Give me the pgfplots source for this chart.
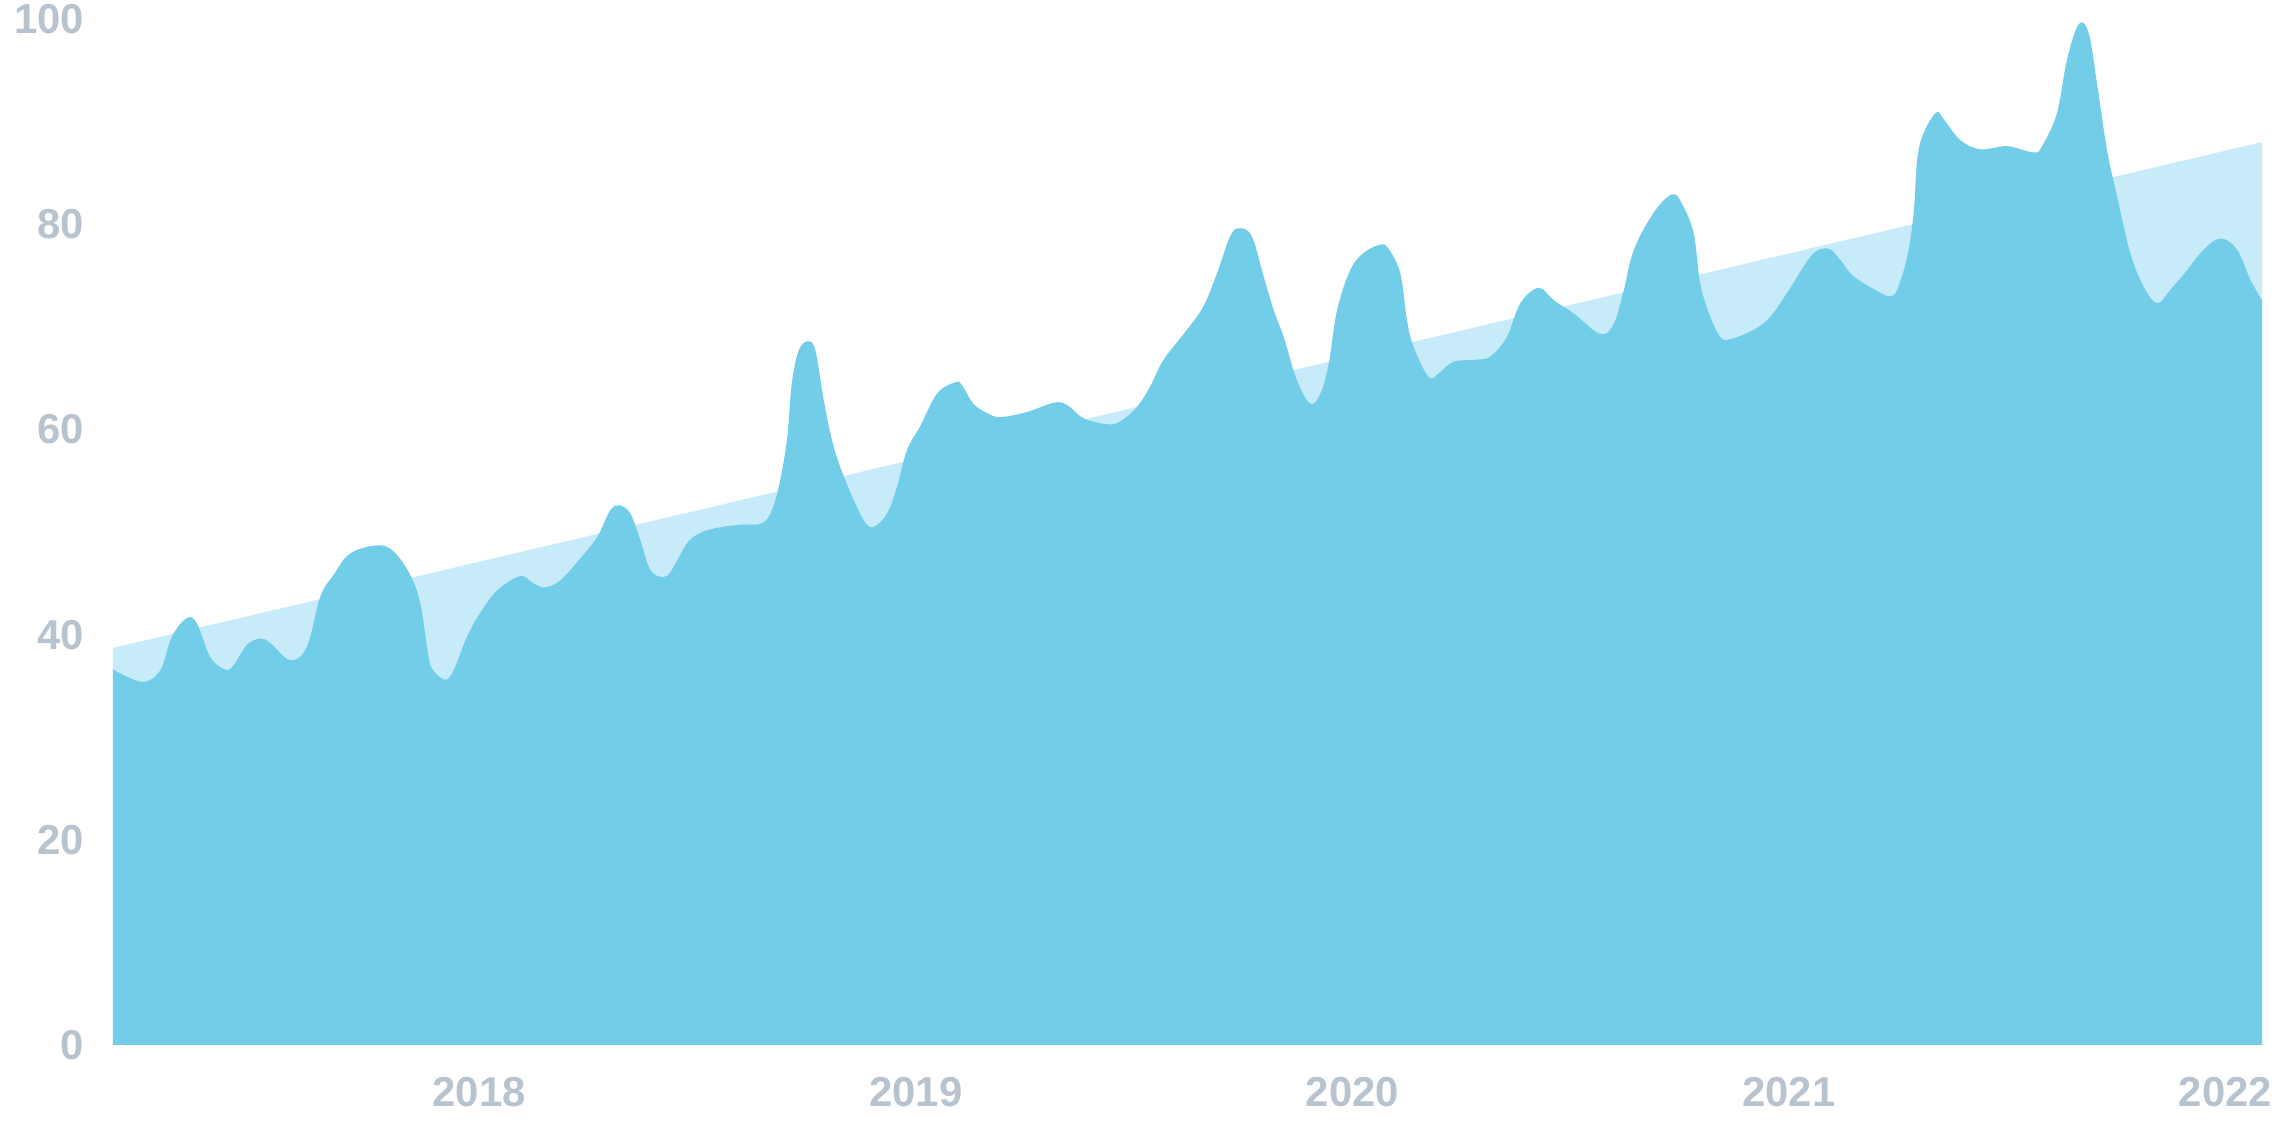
\documentclass[border=0pt]{standalone}
\usepackage{pgfplots}
\pgfplotsset{compat=1.18}
\usepackage{fontspec}
\setmainfont{Liberation Sans}
\definecolor{darkfill}{RGB}{113,205,232}
\definecolor{lightfill}{RGB}{199,235,248}
\definecolor{ticktext}{RGB}{183,195,207}
\begin{document}
\begin{tikzpicture}
\path[draw=none] (-28.25bp,-23.75bp) rectangle (542.25bp,261.25bp);
\begin{axis}[
  at={(0bp,0bp)}, anchor=south west,
  scale only axis,
  width=537.25bp, height=256.5bp,
  xmin=2017.161, xmax=2022.084,
  ymin=0, ymax=100,
  axis line style={draw=none},
  tick style={draw=none},
  major tick length=0pt,
  xtick={2018,2019,2020,2021,2022},
  xticklabels={2018,2019,2020,2021,2022},
  ytick={0,20,40,60,80,100},
  yticklabels={0,20,40,60,80,100},
  tick label style={font=\fontsize{10.5}{12}\selectfont\bfseries, text=ticktext, inner sep=0pt},
  yticklabel style={anchor=east, xshift=-7bp},
  xticklabel style={anchor=north, yshift=-7.8bp},
]
\addplot[fill=lightfill, draw=none] coordinates {(2017.161,38.7) (2022.084,88.0)} \closedcycle;
\addplot[fill=darkfill, draw=none, smooth, tension=0.6] coordinates {
(2017.161,36.6) (2017.227,35.4) (2017.269,36.5) (2017.296,39.8) (2017.330,41.6)
(2017.353,41.1) (2017.384,37.8) (2017.418,36.6) (2017.437,37.0) (2017.468,39.0)
(2017.498,39.6) (2017.521,39.2) (2017.567,37.5) (2017.605,38.8) (2017.636,43.7)
(2017.666,45.8) (2017.704,47.9) (2017.766,48.7) (2017.804,48.1) (2017.842,45.8)
(2017.865,43.0) (2017.884,37.8) (2017.895,36.5) (2017.922,35.6) (2017.941,36.5)
(2017.972,39.8) (2018.002,42.1) (2018.041,44.3) (2018.094,45.7) (2018.124,45.0)
(2018.151,44.6) (2018.186,45.3) (2018.231,47.4) (2018.270,49.5) (2018.300,52.1)
(2018.321,52.6) (2018.346,51.8) (2018.369,49.2) (2018.392,46.3) (2018.422,45.6)
(2018.441,46.3) (2018.476,48.9) (2018.506,49.9) (2018.545,50.4) (2018.598,50.7)
(2018.644,50.8) (2018.667,51.8) (2018.686,54.4) (2018.705,59.0) (2018.716,64.5)
(2018.732,67.7) (2018.753,68.6) (2018.770,67.7) (2018.789,62.9) (2018.812,58.3)
(2018.842,54.7) (2018.880,51.2) (2018.903,50.5) (2018.934,51.8) (2018.957,54.4)
(2018.980,58.0) (2019.010,60.3) (2019.049,63.5) (2019.091,64.6) (2019.106,64.3)
(2019.132,62.5) (2019.163,61.6) (2019.194,61.2) (2019.255,61.7) (2019.316,62.6)
(2019.346,62.4) (2019.384,61.1) (2019.438,60.5) (2019.469,60.8) (2019.507,62.2)
(2019.537,64.2) (2019.568,66.8) (2019.621,69.7) (2019.659,72.0) (2019.690,75.2)
(2019.721,78.9) (2019.743,79.6) (2019.770,78.8) (2019.797,74.9) (2019.820,71.6)
(2019.843,69.0) (2019.873,64.8) (2019.904,62.5) (2019.927,63.5) (2019.946,66.4)
(2019.965,71.6) (2019.995,75.5) (2020.026,77.2) (2020.064,78.0) (2020.083,77.6)
(2020.110,75.2) (2020.125,70.7) (2020.140,68.1) (2020.175,65.1) (2020.202,65.6)
(2020.232,66.6) (2020.286,66.8) (2020.316,67.1) (2020.354,69.0) (2020.385,72.3)
(2020.427,73.8) (2020.461,72.6) (2020.507,71.3) (2020.568,69.3) (2020.599,70.3)
(2020.622,73.6) (2020.645,77.5) (2020.690,81.1) (2020.732,82.9) (2020.755,82.0)
(2020.782,79.1) (2020.797,74.2) (2020.820,71.0) (2020.843,69.0) (2020.866,68.8)
(2020.919,69.7) (2020.958,71.0) (2020.996,73.3) (2021.053,77.0) (2021.091,77.6)
(2021.118,76.5) (2021.149,74.9) (2021.210,73.3) (2021.233,73.0) (2021.248,73.6)
(2021.271,76.8) (2021.286,81.1) (2021.294,86.3) (2021.309,88.9) (2021.338,90.9)
(2021.355,90.2) (2021.393,88.2) (2021.439,87.3) (2021.500,87.6) (2021.561,87.0)
(2021.580,87.6) (2021.614,90.8) (2021.637,96.0) (2021.664,99.5) (2021.687,98.6)
(2021.706,93.7) (2021.729,87.2) (2021.752,82.7) (2021.782,77.2) (2021.813,73.9)
(2021.844,72.3) (2021.874,73.6) (2021.912,75.5) (2021.950,77.5) (2021.989,78.6)
(2022.027,77.5) (2022.057,74.6) (2022.084,72.6)
} \closedcycle;
\end{axis}
\end{tikzpicture}
\end{document}
